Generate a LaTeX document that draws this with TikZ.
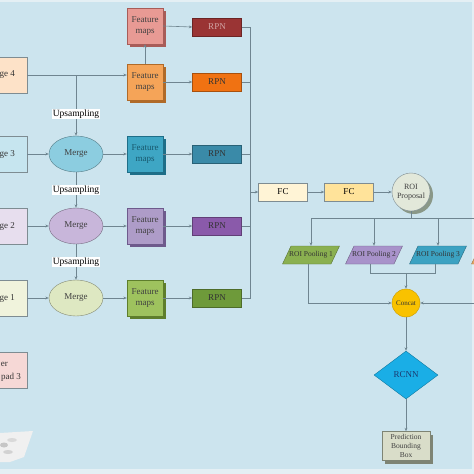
\documentclass[tikz,border=0pt]{standalone}
\usepackage{fontspec}
\setmainfont{Liberation Serif}
\usetikzlibrary{shapes.geometric,shadows,arrows.meta}
\definecolor{bgout}{HTML}{E4EFF4}
\definecolor{bg}{HTML}{CCE4EE}
\definecolor{lc}{HTML}{6F8590}
\definecolor{bc}{HTML}{7E8C92}
\definecolor{sfour}{HTML}{FDE2C8}
\definecolor{sthree}{HTML}{C6E5EF}
\definecolor{stwo}{HTML}{E7DEEE}
\definecolor{sone}{HTML}{F0F3DC}
\definecolor{szero}{HTML}{F6D8D6}
\definecolor{fmfive}{HTML}{E89A94}\definecolor{fmfiveS}{HTML}{A85C58}
\definecolor{fmfour}{HTML}{F5A458}\definecolor{fmfourS}{HTML}{B06A28}
\definecolor{fmthree}{HTML}{3EA6C4}\definecolor{fmthreeS}{HTML}{1E6E88}
\definecolor{fmtwo}{HTML}{AE9CC8}\definecolor{fmtwoS}{HTML}{6E5A8C}
\definecolor{fmone}{HTML}{9EC25E}\definecolor{fmoneS}{HTML}{5E7E2C}
\definecolor{rpnfive}{HTML}{9A3434}
\definecolor{rpnfour}{HTML}{F07212}
\definecolor{rpnthree}{HTML}{3A8AA8}
\definecolor{rpntwo}{HTML}{8A5AAA}
\definecolor{rpnone}{HTML}{6E9A3A}
\definecolor{mthree}{HTML}{8CCDE0}
\definecolor{mtwo}{HTML}{C8B6DA}
\definecolor{mone}{HTML}{DEE8C2}
\definecolor{fcone}{HTML}{FFF4D6}
\definecolor{fctwo}{HTML}{FFE39A}
\definecolor{roif}{HTML}{E2E8DA}\definecolor{roiS}{HTML}{8A9888}
\definecolor{pone}{HTML}{8AB050}
\definecolor{ptwo}{HTML}{A892CA}
\definecolor{pthree}{HTML}{3CA2C2}
\definecolor{pfour}{HTML}{E8A866}
\definecolor{concatf}{HTML}{F9C200}\definecolor{concatb}{HTML}{C89A00}
\definecolor{rcnnf}{HTML}{1AAEE6}\definecolor{rcnnt}{HTML}{1A3A70}
\definecolor{pbbf}{HTML}{D9DDC9}\definecolor{pbbS}{HTML}{7E8474}
\begin{document}
\begin{tikzpicture}[x=1pt,y=-1pt,
  line/.style={draw=lc, line width=0.6pt},
  arr/.style={line, -{Stealth[length=3.5pt,width=2.8pt]}},
  stagebox/.style={rectangle, draw=bc, fill=#1, minimum width=40pt, minimum height=36pt, inner sep=0pt},
  stagetxt/.style={anchor=east, inner sep=0pt, font=\fontsize{9}{10}\selectfont, text=black!80},
  fmbox/.style 2 args={rectangle, draw=#2, fill=#1, minimum width=36pt, minimum height=36pt, inner sep=0pt,
     align=center, font=\fontsize{9}{11}\selectfont, text=black!75,
     general shadow={fill=#2, shadow xshift=3pt, shadow yshift=-3pt}},
  rpnbox/.style={rectangle, draw=#1!70!black, fill=#1, minimum width=49pt, minimum height=18pt, inner sep=0pt,
     font=\fontsize{9}{10}\selectfont, text=black!80},
  mergeell/.style={ellipse, draw=#1!60!black, fill=#1, minimum width=54pt, minimum height=36pt, inner sep=0pt,
     font=\fontsize{9}{10}\selectfont, text=black!75},
  upl/.style={fill=white, inner sep=1pt, font=\fontsize{9.5}{10}\selectfont},
  fcbox/.style={rectangle, draw=bc, fill=#1, minimum width=49pt, minimum height=18pt, inner sep=0pt,
     font=\fontsize{9}{10}\selectfont},
  poolnode/.style={rectangle, minimum width=40pt, minimum height=18pt, inner sep=0pt,
     font=\fontsize{7.5}{9}\selectfont, text=black!80},
  poolshape/.style={draw=#1!65!black, fill=#1},
]
\clip (0,0) rectangle (474,474);
\fill[bgout] (0,0) rectangle (474,474);
\fill[bg] (0,2) rectangle (472,469);

% image fragment bottom-left
\fill[gray!12] (0,433) -- (33,431) -- (24,457) -- (10,462) -- (0,462) -- cycle;
\fill[gray!45] (4,445) ellipse (4 and 2.5);
\fill[gray!30] (12,440) ellipse (5 and 2);
\fill[gray!35] (8,452) ellipse (5 and 2);

% stage boxes (cut at the left edge)
\node[stagebox=sfour] (s4) at (7,75) {};
\node[stagetxt] (t4) at (15,75) {ge 4};
\node[stagebox=sthree] (s3) at (7,154) {};
\node[stagetxt] (t3) at (15,154) {ge 3};
\node[stagebox=stwo] (s2) at (7,226) {};
\node[stagetxt] (t2) at (15,226) {ge 2};
\node[stagebox=sone] (s1) at (7,298) {};
\node[stagetxt] (t1) at (15,298) {ge 1};
\node[stagebox=szero] (s0) at (7,370) {};
\node[stagetxt] (t0a) at (8,364) {er};
\node[stagetxt] (t0b) at (21,377) {pad 3};

% merges
\node[mergeell=mthree] (m3) at (76,154) {Merge};
\node[mergeell=mtwo] (m2) at (76,226) {Merge};
\node[mergeell=mone] (m1) at (76,298) {Merge};

% feature maps
\node[fmbox={fmfive}{fmfiveS}] (f5) at (145,26) {Feature\\maps};
\node[fmbox={fmfour}{fmfourS}] (f4) at (145,82) {Feature\\maps};
\node[fmbox={fmthree}{fmthreeS}, text=fmthreeS!80!black] (f3) at (145,154) {Feature\\maps};
\node[fmbox={fmtwo}{fmtwoS}] (f2) at (145,226) {Feature\\maps};
\node[fmbox={fmone}{fmoneS}] (f1) at (145,298) {Feature\\maps};

% RPN
\node[rpnbox=rpnfive, text=rpnfive!45!white] (r5) at (217,27) {RPN};
\node[rpnbox=rpnfour] (r4) at (217,82) {RPN};
\node[rpnbox=rpnthree] (r3) at (217,154) {RPN};
\node[rpnbox=rpntwo] (r2) at (217,226) {RPN};
\node[rpnbox=rpnone] (r1) at (217,298) {RPN};

% FC and ROI proposal
\node[fcbox=fcone] (fc1) at (283,192) {FC};
\node[fcbox=fctwo] (fc2) at (349,192) {FC};
\node[circle, draw=bc, fill=roif, minimum size=38pt, inner sep=0pt, align=center,
      font=\fontsize{8}{9.5}\selectfont, text=black!75,
      general shadow={fill=roiS, shadow xshift=3pt, shadow yshift=-3pt}] (roi) at (411,192) {ROI\\Proposal};

% ROI pooling parallelograms
\filldraw[poolshape=pone] (282.5,264) -- (331,264) -- (339.5,246) -- (291,246) -- cycle;
\node[poolnode] (p1) at (311,255) {ROI Pooling 1};
\filldraw[poolshape=ptwo] (345.5,264) -- (394,264) -- (402.5,246) -- (354,246) -- cycle;
\node[poolnode] (p2) at (374,255) {ROI Pooling 2};
\filldraw[poolshape=pthree] (409.5,264) -- (458,264) -- (466.5,246) -- (418,246) -- cycle;
\node[poolnode] (p3) at (438,255) {ROI Pooling 3};
\filldraw[poolshape=pfour] (471.5,264) -- (520,264) -- (528.5,246) -- (480,246) -- cycle;
\node[poolnode] (p4) at (500,255) {};

% concat, RCNN, output
\node[circle, draw=concatb, fill=concatf, minimum size=28pt, inner sep=0pt,
      font=\fontsize{7}{8}\selectfont, text=black!80] (cc) at (406,303) {Concat};
\node[diamond, draw=rcnnf!70!black, fill=rcnnf, minimum width=64pt, minimum height=48pt, inner sep=0pt,
      font=\fontsize{9}{10}\selectfont, text=rcnnt] (rc) at (406,375) {RCNN};
\node[rectangle, draw=pbbS, fill=pbbf, minimum width=48pt, minimum height=29pt, inner sep=0pt, align=center,
      font=\fontsize{7.5}{9}\selectfont, text=black!75,
      general shadow={fill=pbbS, shadow xshift=3pt, shadow yshift=-3pt}] (pb) at (406,446) {Prediction\\Bounding\\Box};

% coordinates
\coordinate (j4) at (76,75);
\coordinate (bus5) at (250,27);
\coordinate (bus1) at (250,298);
\coordinate (busfc) at (250,192);
\coordinate (rl) at (311,218);
\coordinate (rr) at (500,218);
\coordinate (rm) at (411,218);
\coordinate (cl) at (370,273);
\coordinate (cr) at (435,273);
\coordinate (cm) at (406,273);

% top-down path
\draw[arr] (s4.east) -- (s4.east -| f4.west);
\draw[arr] (j4) -- node[upl, pos=0.64] (u3) {Upsampling} (m3.north);
\draw[arr] (m3.south) -- node[upl] (u2) {Upsampling} (m2.north);
\draw[arr] (m2.south) -- node[upl] (u1) {Upsampling} (m1.north);
\draw[arr] (s3.east) -- (m3.west);
\draw[arr] (s2.east) -- (m2.west);
\draw[arr] (s1.east) -- (m1.west);
\draw[arr] (m3.east) -- (f3.west);
\draw[arr] (m2.east) -- (f2.west);
\draw[arr] (m1.east) -- (f1.west);
\draw[arr] (f4.north) -- (f5.south);
\draw[arr] (f5.east) -- (r5.west);
\draw[arr] (f4.east) -- (r4.west);
\draw[arr] (f3.east) -- (r3.west);
\draw[arr] (f2.east) -- (r2.west);
\draw[arr] (f1.east) -- (r1.west);

% RPN bus
\draw[line] (r5.east) -- (bus5) -- (bus1) -- (r1.east);
\draw[line] (r4.east) -- (r4.east -| bus5);
\draw[line] (r3.east) -- (r3.east -| bus5);
\draw[line] (r2.east) -- (r2.east -| bus5);
\draw[arr] (busfc) -- (fc1.west);
\draw[arr] (fc1.east) -- (fc2.west);
\draw[arr] (fc2.east) -- (roi.west);

% ROI proposal to pooling
\draw[line] (roi.south) -- (rm);
\draw[line] (rl) -- (rr);
\draw[arr] (rl) -- (p1.north);
\draw[arr] (rl -| p2.north) -- (p2.north);
\draw[arr] (rl -| p3.north) -- (p3.north);
\draw[arr] (rl -| p4.north) -- (p4.north);

% pooling to concat
\draw[arr] ([xshift=-3pt]p1.south) |- (cc.west);
\draw[line] (cl |- p2.south) -- (cl) -- (cr) -- (cr |- p3.south);
\draw[arr] (cm) -- (cc.north);
\draw[arr] (p4.south) |- (cc.east);

% to RCNN and output
\draw[arr] (cc.south) -- (rc.north);
\draw[arr] (rc.south) -- (pb.north);
\end{tikzpicture}
\end{document}
